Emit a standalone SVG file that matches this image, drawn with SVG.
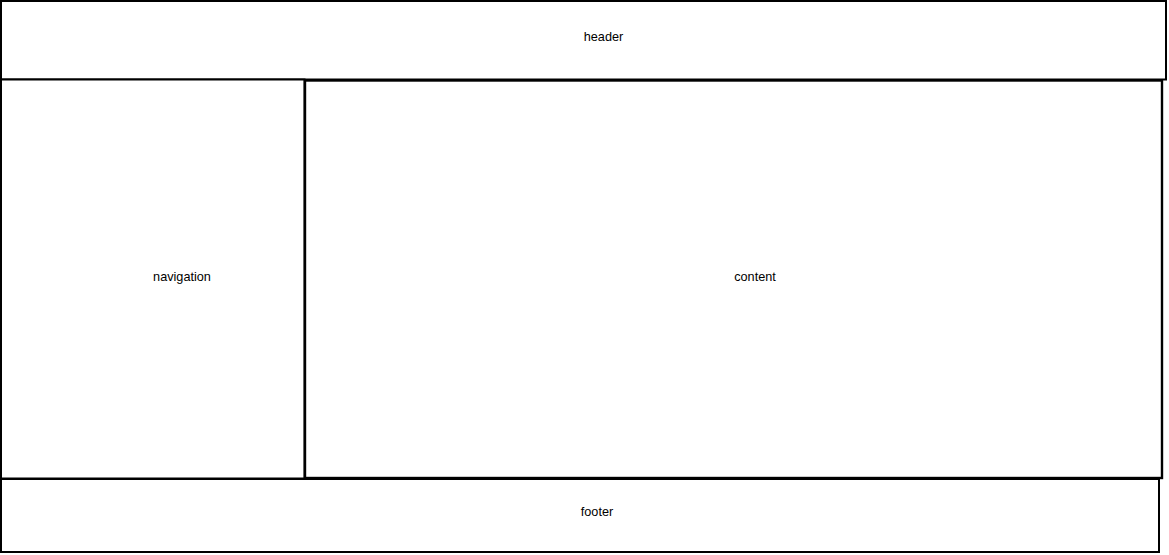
<svg xmlns="http://www.w3.org/2000/svg" width="1169" height="555" viewBox="0 0 1169 555">
<style>
.box{fill:#ffffff;stroke:#000000;stroke-width:2}
.lbl{font-family:"Liberation Sans","DejaVu Sans",Arial,sans-serif;font-size:12.7px;fill:#000000;text-anchor:middle}
</style>
<rect x="0" y="0" width="1169" height="555" fill="#ffffff"/>
<g id="header">
<rect class="box" x="1" y="1" width="1165" height="78.5"/>
<text class="lbl" x="603.5" y="40.5">header</text>
</g>
<g id="navigation">
<rect class="box" x="1" y="79.5" width="303.5" height="399"/>
<text class="lbl" x="182" y="281">navigation</text>
</g>
<g id="content">
<rect class="box" x="305" y="80.5" width="857" height="397.5" style="stroke-width:2.4"/>
<text class="lbl" x="755" y="281">content</text>
</g>
<g id="footer">
<rect class="box" x="1" y="479" width="1158" height="73"/>
<text class="lbl" x="597" y="516">footer</text>
</g>
<g id="connectors"></g>
</svg>
